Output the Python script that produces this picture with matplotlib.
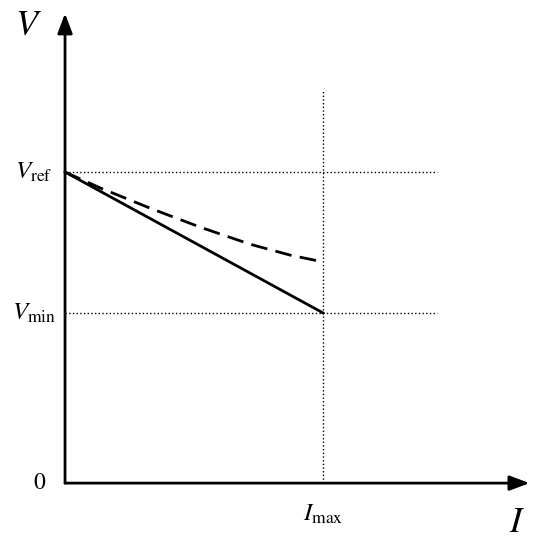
import matplotlib
matplotlib.use("Agg")
import matplotlib.pyplot as plt

plt.rcParams['mathtext.fontset'] = 'stix'
plt.rcParams['font.family'] = 'Liberation Serif'

I_max = 1.0
V_ref = 1.0
V_min = 0.547
solid_I = [0.0, 1.0]
solid_V = [1.0, 0.547]
dash_I = [0.0, 0.136, 0.329, 0.523, 0.717, 0.872, 1.0]
dash_V = [1.0, 0.949, 0.884, 0.823, 0.768, 0.733, 0.711]

fig = plt.figure(figsize=(5.45, 5.5), dpi=100)
ax = fig.add_axes([0, 0, 1, 1])
ax.set_xlim(-0.252, 1.860)
ax.set_ylim(-0.215, 1.553)
ax.axis('off')

ax.plot(solid_I, solid_V, color='black', lw=2)
ax.plot(dash_I, dash_V, color='black', lw=2, ls=(0, (6, 3)))
ax.plot([0, 1.442], [V_ref, V_ref], color='black', lw=1, ls=':')
ax.plot([0, 1.442], [V_min, V_min], color='black', lw=1, ls=':')
ax.plot([I_max, I_max], [0, 1.264], color='black', lw=1, ls=':')

ax.annotate('', xy=(0, 1.51), xytext=(0, 0),
            arrowprops=dict(arrowstyle='-|>,head_length=1.2,head_width=0.45', color='black', lw=2, shrinkA=0, shrinkB=0))
ax.annotate('', xy=(1.80, 0), xytext=(0, 0),
            arrowprops=dict(arrowstyle='-|>,head_length=1.2,head_width=0.45', color='black', lw=2, shrinkA=0, shrinkB=0))

ax.text(-0.14, 1.47, r'$V$', fontsize=26, ha='center', va='center')
ax.text(1.75, -0.13, r'$I$', fontsize=26, ha='center', va='center')
ax.text(-0.10, 0.0, r'$0$', fontsize=17, ha='center', va='center')
ax.text(-0.12, V_ref, r'$V_{\rm ref}$', fontsize=18, ha='center', va='center')
ax.text(-0.12, V_min, r'$V_{\rm min}$', fontsize=18, ha='center', va='center')
ax.text(I_max, -0.1, r'$I_{\rm max}$', fontsize=18, ha='center', va='center')

fig.savefig('out.png', dpi=100)
